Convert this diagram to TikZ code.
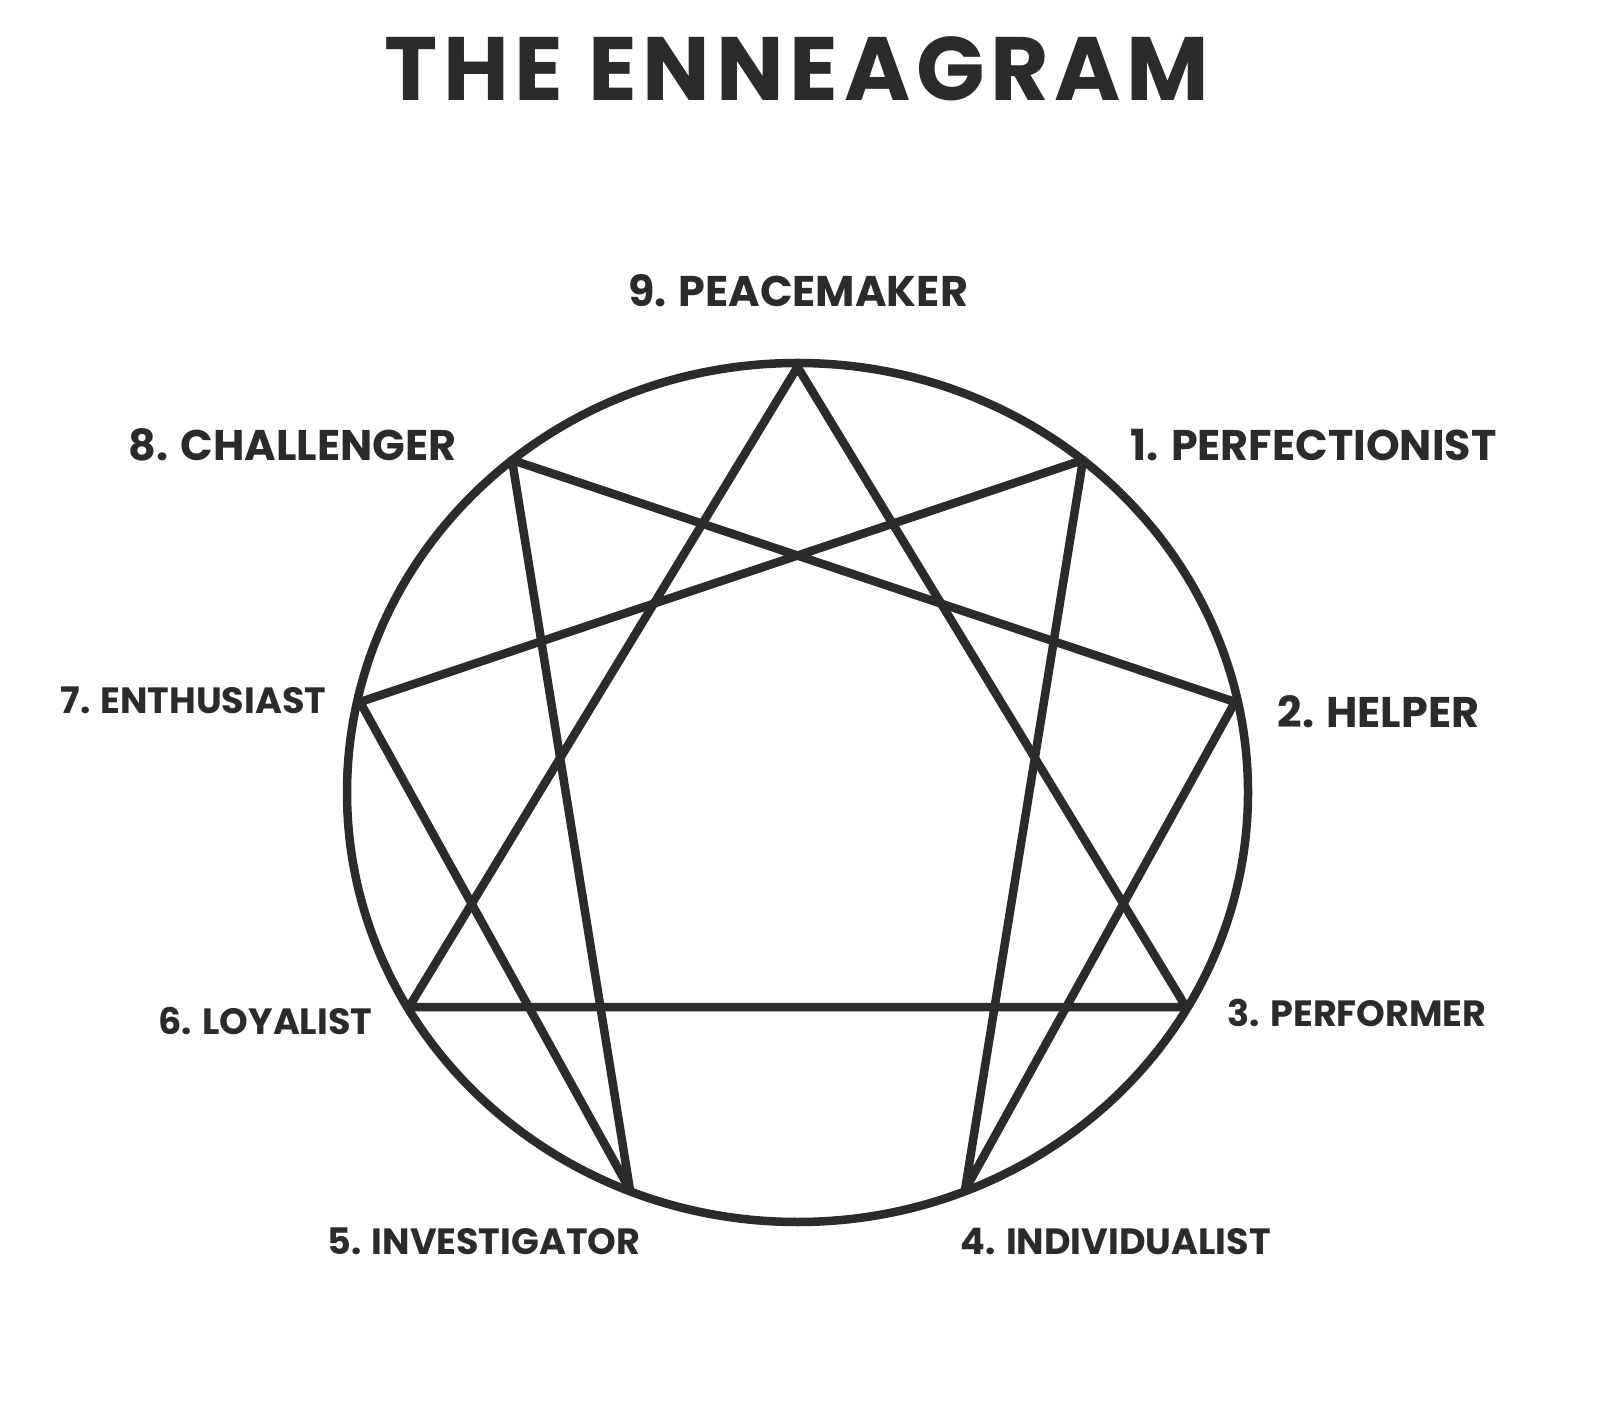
\documentclass[tikz,border=0pt]{standalone}
\usepackage{fontspec}
\setmainfont{Poppins}
\usetikzlibrary{positioning}
\definecolor{ink}{HTML}{2B2B2B}

\begin{document}
\begin{tikzpicture}[
        figline/.style={draw=ink, line width=0.085cm, line join=round},
        headline/.style={text=ink, inner sep=0pt, font=\bfseries\fontsize{25.6}{28}\selectfont\addfontfeatures{LetterSpace=6.4}},
        typename/.style={text=ink, inner sep=0pt, font=\bfseries\fontsize{12.2}{14}\selectfont},
        smalltype/.style={text=ink, inner sep=0pt, font=\bfseries\fontsize{10.4}{12}\selectfont}
    ]
    \useasboundingbox (0,0) rectangle (16,14);

    \node[headline, anchor=base] (title) at (7.97,12.99) {THE ENNEAGRAM};

    % points on the circle
    \coordinate (centre) at (7.975,6.075);
    \coordinate (p9) at (7.975,10.33);
    \coordinate (p1) at (10.83,9.40);
    \coordinate (p2) at (12.35,6.98);
    \coordinate (p3) at (11.86,3.93);
    \coordinate (p4) at (9.65,2.10);
    \coordinate (p5) at (6.30,2.10);
    \coordinate (p6) at (4.09,3.93);
    \coordinate (p7) at (3.60,6.98);
    \coordinate (p8) at (5.12,9.40);

    \draw[figline] (centre) ellipse [x radius=4.505, y radius=4.295];
    \draw[figline] (p9) -- (p3) -- (p6) -- cycle;
    \draw[figline] (p1) -- (p4) -- (p2) -- (p8) -- (p5) -- (p7) -- cycle;

    % names
    \node[typename, anchor=base] (n9) at (7.98,10.93) {9. PEACEMAKER};
    \node[typename, anchor=base west] (n1) at (11.30,9.39) {1. PERFECTIONIST};
    \node[typename, anchor=base west] (n2) at (12.77,6.72) {2. HELPER};
    \node[smalltype, anchor=base west] (n3) at (12.27,3.74) {3. PERFORMER};
    \node[smalltype, anchor=base west] (n4) at (9.60,1.46) {4. INDIVIDUALIST};
    \node[smalltype, anchor=base east] (n5) at (6.41,1.46) {5. INVESTIGATOR};
    \node[smalltype, anchor=base east] (n6) at (3.73,3.66) {6. LOYALIST};
    \node[smalltype, anchor=base east] (n7) at (3.27,6.86) {7. ENTHUSIAST};
    \node[typename, anchor=base east] (n8) at (4.57,9.39) {8. CHALLENGER};
\end{tikzpicture}
\end{document}
